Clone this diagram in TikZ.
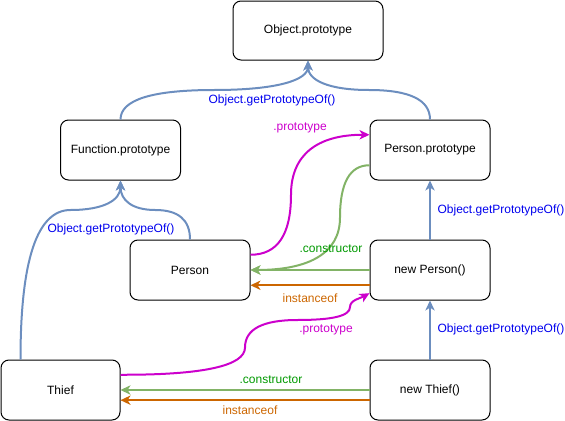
\documentclass[tikz,border=0pt]{standalone}
\usepackage{fontspec}
\setmainfont{Liberation Sans}
\usetikzlibrary{arrows.meta,calc}
\definecolor{lblue}{HTML}{6C8EBF}
\definecolor{lgreen}{HTML}{82B366}
\definecolor{lorange}{HTML}{CC6600}
\definecolor{lmag}{HTML}{CC00CC}
\definecolor{tblue}{HTML}{0000EE}
\definecolor{tgreen}{HTML}{009900}
\definecolor{torange}{HTML}{CC6600}
\definecolor{tmag}{HTML}{CC00CC}
\newcommand{\vhvedge}[4]{%
  \coordinate (tmpM) at ($(#2)!0.5!(#3)$);
  \coordinate (tmpY) at (0,#4);
  \coordinate (tmpMid) at (tmpM |- tmpY);
  \draw[#1] (#2) .. controls ($(#2)!2/3!(#2 |- tmpMid)$) and ($(tmpMid)!2/3!(#2 |- tmpMid)$) .. (tmpMid)
    .. controls ($(tmpMid)!2/3!(#3 |- tmpMid)$) and ($(#3)!2/3!(#3 |- tmpMid)$) .. (#3);
}
\newcommand{\hvhedge}[4]{%
  \coordinate (tmpM) at ($(#2)!0.5!(#3)$);
  \coordinate (tmpX) at (#4,0);
  \coordinate (tmpMid) at (tmpX |- tmpM);
  \draw[#1] (#2) .. controls ($(#2)!2/3!(tmpMid |- #2)$) and ($(tmpMid)!2/3!(tmpMid |- #2)$) .. (tmpMid)
    .. controls ($(tmpMid)!2/3!(tmpMid |- #3)$) and ($(#3)!2/3!(tmpMid |- #3)$) .. (#3);
}
\tikzset{
  box/.style={draw=black, line width=0.75pt, rounded corners=6pt, fill=white,
    minimum width=90pt, minimum height=45pt, inner sep=0pt,
    font=\fontsize{9}{11}\selectfont},
  lbl/.style={inner sep=0pt, font=\fontsize{9}{11}\selectfont},
  arr/.style={line width=1.5pt, -{Stealth[length=7.5pt,width=7pt,inset=2.2pt]}},
  protoedge/.style={arr, draw=lblue},
  ctoredge/.style={arr, draw=lgreen},
  instedge/.style={arr, draw=lorange},
  propedge/.style={arr, draw=lmag},
}
\begin{document}
\begin{tikzpicture}[x=0.75pt, y=-0.75pt]
\useasboundingbox (0,0) rectangle (565,421);
% boxes
\node[box, minimum width=112.5pt, minimum height=44.25pt] (op) at (308,30.5) {Object.prototype};
\node[box] (fp) at (120.5,150) {Function.prototype};
\node[box] (pp) at (430,150) {Person.prototype};
\node[box] (person) at (190,270) {Person};
\node[box] (np) at (430,270) {new Person()};
\node[box, minimum width=89.25pt] (thief) at (60.5,390) {Thief};
\node[box] (nt) at (430,390) {new Thief()};
% anchor points
\coordinate (thiefTop) at ($(thief.north west)!1/6!(thief.north east)$);
\coordinate (personR1) at ($(person.north east)!0.25!(person.south east)$);
\coordinate (personR3) at ($(person.north east)!0.75!(person.south east)$);
\coordinate (ppL1) at ($(pp.north west)!0.25!(pp.south west)$);
\coordinate (ppL3) at ($(pp.north west)!0.75!(pp.south west)$);
\coordinate (npL3) at ($(np.north west)!0.75!(np.south west)$);
\coordinate (npL5) at ($(np.north west)!0.88!(np.south west)$);
\coordinate (thiefR1) at ($(thief.north east)!0.25!(thief.south east)$);
\coordinate (thiefR3) at ($(thief.north east)!0.667!(thief.south east)$);
\coordinate (ntL3) at ($(nt.north west)!0.667!(nt.south west)$);
% blue getPrototypeOf edges
\vhvedge{protoedge}{fp.north}{op.south}{90}
\vhvedge{protoedge}{pp.north}{op.south}{90}
\vhvedge{protoedge}{person.north}{fp.south}{210}
\vhvedge{protoedge}{thiefTop}{fp.south}{210}
\draw[protoedge] (np.north) -- (pp.south);
\draw[protoedge] (nt.north) -- (np.south);
% magenta .prototype
\hvhedge{propedge}{personR1}{ppL1}{291}
\draw[propedge] (thiefR1) .. controls (203.3,375) and (245,365.8) .. (245,347.5)
  .. controls (245,329.2) and (262.5,320) .. (297.5,320)
  .. controls (332.5,320) and (350,316) .. (350,307)
  .. controls (350,300) and (361,298) .. (npL5);
% green .constructor
\hvhedge{ctoredge}{ppL3}{person.east}{340}
\draw[ctoredge] (np.west) -- (person.east);
\draw[ctoredge] (nt.west) -- (thief.east);
% orange instanceof
\draw[instedge] (npL3) -- (personR3);
\draw[instedge] (ntL3) -- (thiefR3);
% labels
\node[lbl, text=tblue] (l1) at (272,100) {Object.getPrototypeOf()};
\node[lbl, text=tblue] (l2) at (111,229) {Object.getPrototypeOf()};
\node[lbl, text=tblue] (l3) at (501,210) {Object.getPrototypeOf()};
\node[lbl, text=tblue] (l4) at (501,329) {Object.getPrototypeOf()};
\node[lbl, text=tmag] (l5) at (300,128) {.prototype};
\node[lbl, text=tmag] (l6) at (326,330) {.prototype};
\node[lbl, text=tgreen] (l7) at (331,249) {.constructor};
\node[lbl, text=tgreen] (l8) at (271,380) {.constructor};
\node[lbl, text=torange] (l9) at (310,298) {instanceof};
\node[lbl, text=torange] (l10) at (250,410) {instanceof};
\end{tikzpicture}
\end{document}
